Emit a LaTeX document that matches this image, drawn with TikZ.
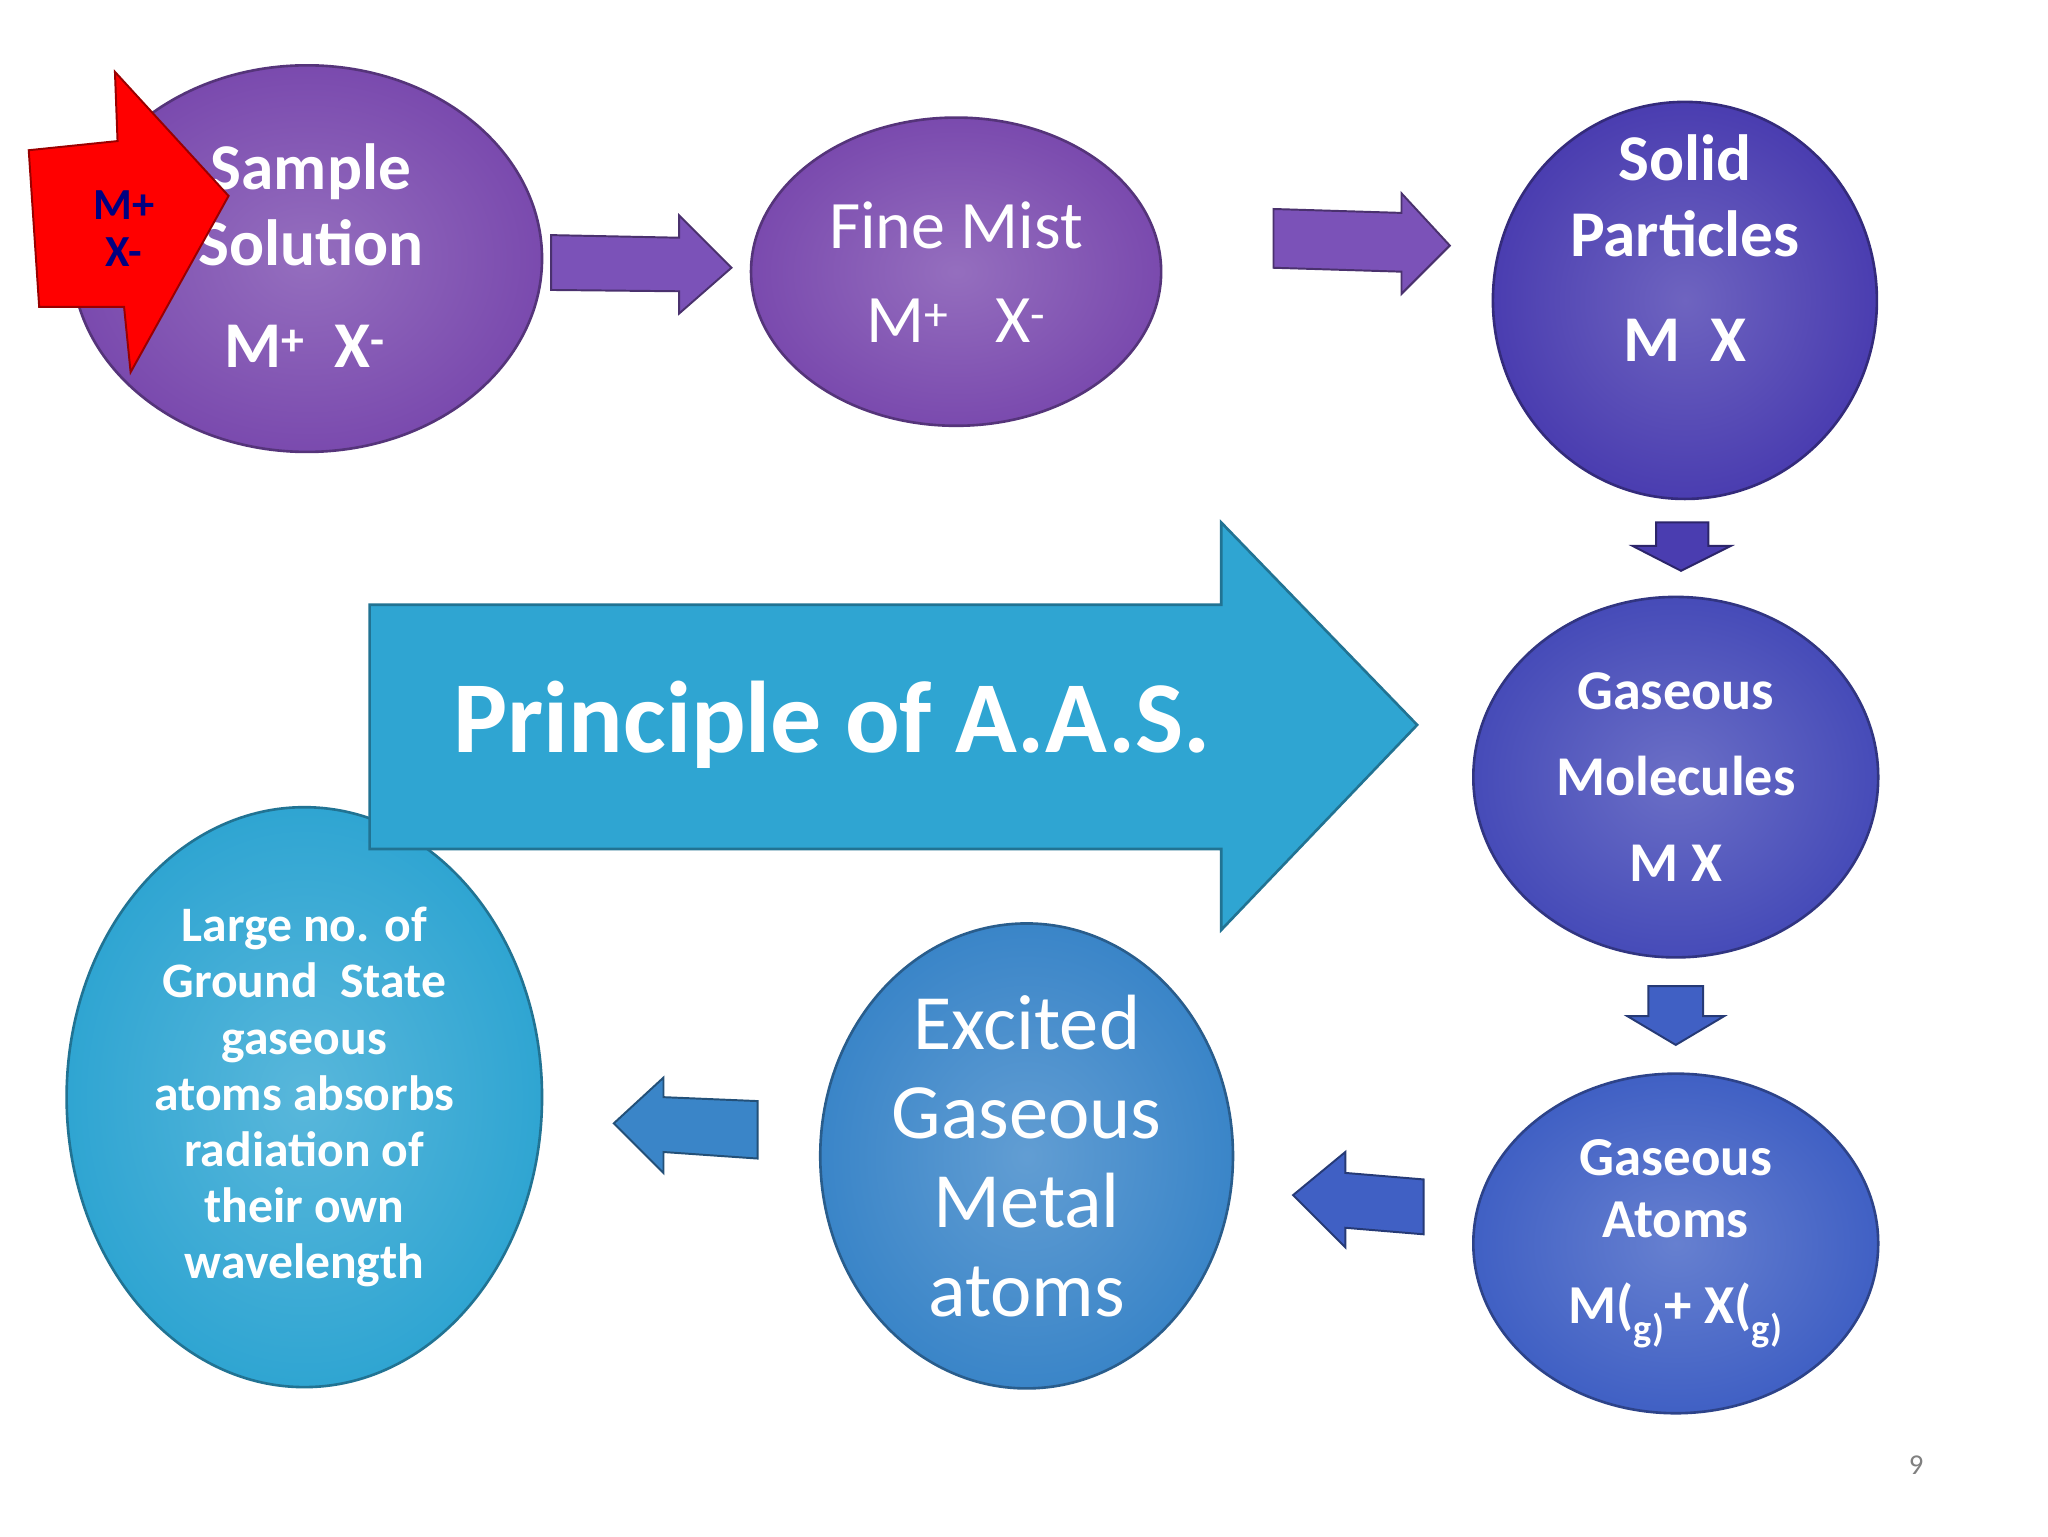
\documentclass[tikz,border=0pt]{standalone}
\usepackage{fontspec}
\setmainfont{Carlito}
\usetikzlibrary{shapes.geometric,shapes.arrows}
\definecolor{cpurp}{HTML}{7A4AAE}
\definecolor{cblp}{HTML}{4A3DB0}
\definecolor{cblue}{HTML}{4060C4}
\definecolor{cmid}{HTML}{3A85C8}
\definecolor{ccyan}{HTML}{2FA5D2}
\definecolor{carrow}{HTML}{7B52B8}
\tikzset{
 blob/.style={ellipse, draw=#1!70!black, line width=2pt, shade, inner color=#1!80!white, outer color=#1, text=white, font=\bfseries, align=center, inner sep=0pt},
 sarrow/.style={fill=#1, draw=#1!60!black, line width=1.5pt},
}
\begin{document}
\begin{tikzpicture}[x=1pt,y=-1pt]
\useasboundingbox (0,0) rectangle (1568,1176);
\fill[white] (0,0) rectangle (1568,1176);
% ellipses
\node[blob=cpurp, minimum width=360pt, minimum height=296pt] (s) at (235,198) {};
\node[text=white, font=\bfseries\fontsize{50}{58}\selectfont, align=center] (st) at (238,157) {Sample\\Solution};
\node[text=white, font=\bfseries\fontsize{50}{50}\selectfont] (sm) at (233,265) {M\textsuperscript{+}\ \ X\textsuperscript{-}};
\node[blob=cpurp, minimum width=314pt, minimum height=236pt, font=\fontsize{52}{50}\selectfont] (f) at (732,208) {Fine Mist\\[22pt] M\textsuperscript{+}\ \ \ X\textsuperscript{-}};
\node[blob=cblp, minimum width=294pt, minimum height=304pt] (sp) at (1290,230) {};
\node[text=white, font=\bfseries\fontsize{50}{58}\selectfont, align=center] (spt) at (1290,190) {Solid\\Particles\\[22pt] M\ \ X};
\node[blob=cblp!60!cblue, minimum width=310pt, minimum height=276pt, font=\bfseries\fontsize{43}{66}\selectfont] (gm) at (1283,595) {Gaseous\\Molecules\\M X};
\node[blob=cblue, minimum width=310pt, minimum height=260pt, font=\bfseries\fontsize{42}{48}\selectfont] (ga) at (1283,952) {Gaseous\\Atoms\\[18pt] M(\textsubscript{g)}+ X(\textsubscript{g)}};
\node[blob=cmid, minimum width=316pt, minimum height=356pt, font=\fontsize{60}{68}\selectfont] (ex) at (786,885) {Excited\\Gaseous\\Metal\\atoms};
\node[blob=ccyan, minimum width=364pt, minimum height=444pt, font=\bfseries\fontsize{38}{43}\selectfont] (lg) at (233,840) {Large no. of\\Ground\ \ State\\gaseous\\atoms absorbs\\radiation of\\their own\\wavelength};
% big arrow
\fill[ccyan, draw=ccyan!70!black, line width=2pt] (283,463) -- (935,463) -- (935,400) -- (1085,555) -- (935,712) -- (935,650) -- (283,650) -- cycle;
\node[text=white, font=\bfseries\fontsize{78}{80}\selectfont] (p) at (637,555) {Principle of A.A.S.};
% small arrows
\filldraw[sarrow=carrow] (422,180) -- (520,182) -- (520,165) -- (560,205) -- (520,240) -- (520,223) -- (422,222) -- cycle;
\filldraw[sarrow=carrow] (975,160) -- (1073,163) -- (1073,148) -- (1110,188) -- (1073,225) -- (1073,208) -- (975,205) -- cycle;
\filldraw[sarrow=cblp] (1268,400) -- (1308,400) -- (1308,418) -- (1325,418) -- (1287,437) -- (1250,418) -- (1268,418) -- cycle;
\filldraw[sarrow=cblue] (1262,755) -- (1304,755) -- (1304,778) -- (1320,778) -- (1283,800) -- (1246,778) -- (1262,778) -- cycle;
\filldraw[sarrow=cmid] (580,843) -- (508,840) -- (508,825) -- (470,860) -- (508,898) -- (508,882) -- (580,887) -- cycle;
\filldraw[sarrow=cblue] (1090,903) -- (1030,898) -- (1030,882) -- (990,915) -- (1030,955) -- (1030,940) -- (1090,945) -- cycle;
% red arrow
\filldraw[fill=red, draw=red!60!black, line width=1.5pt] (22,115) -- (90,108) -- (88,55) -- (175,150) -- (100,285) -- (95,235) -- (30,235) -- cycle;
\node[text=blue!50!black, font=\bfseries\fontsize{34}{36}\selectfont, align=center] (mx) at (95,175) {M+\\X-};
\node[text=gray, font=\fontsize{22}{24}\selectfont] (pg) at (1467,1122) {9};
\end{tikzpicture}
\end{document}
